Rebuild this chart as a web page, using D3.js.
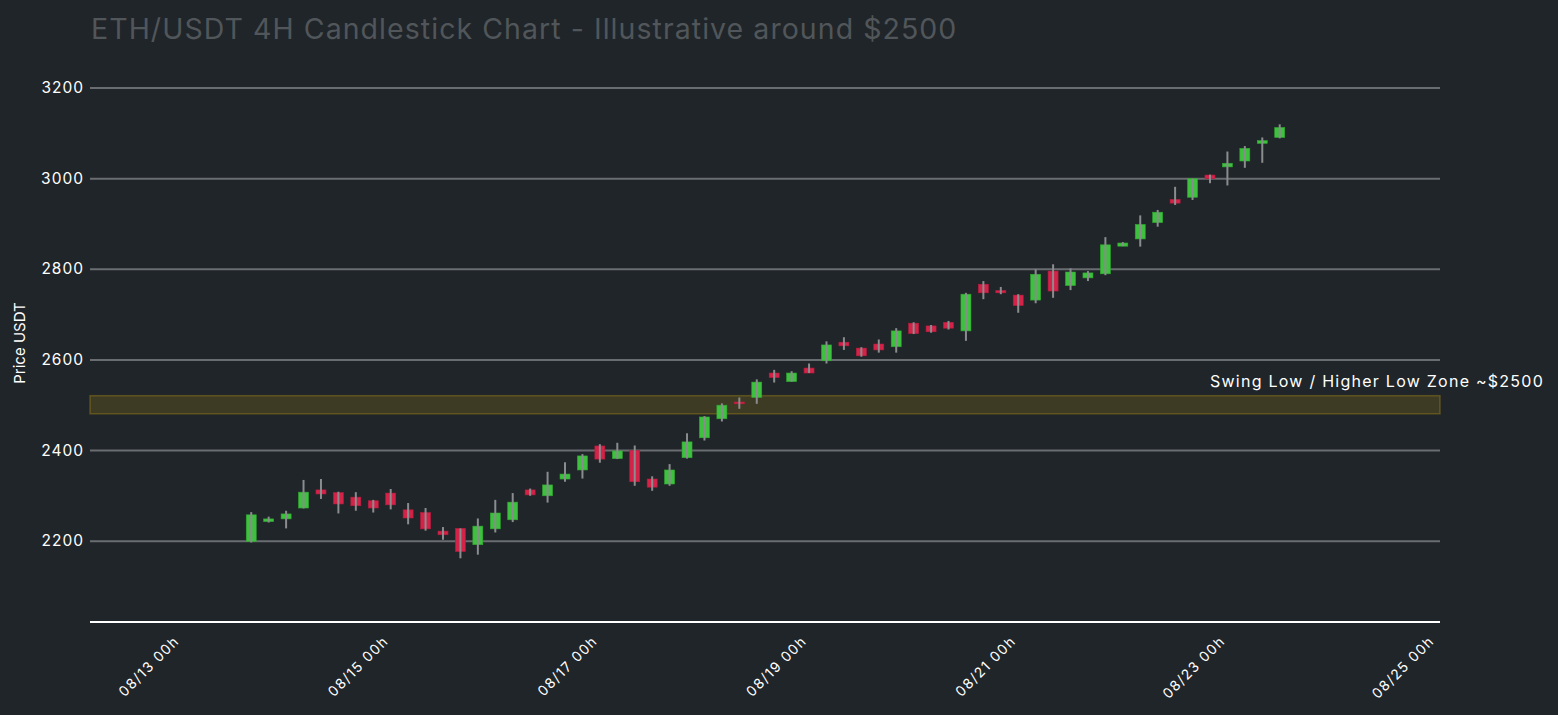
<!DOCTYPE html>
<html>
<head>
<meta charset="utf-8">
<script src="https://cdn.jsdelivr.net/npm/d3@7"></script>
<style>
  html, body { margin: 0; padding: 0; background: #202529; }
  svg { display: block; }
  text { font-family: Inter, "Noto Sans", sans-serif; }
</style>
</head>
<body>
<svg id="chart" width="1558" height="715"></svg>
<script>
// ---- Data (4H candles, first candle 08/13 16:00) ----
const firstCandle = "2024-08-13T16:00:00Z";
const stepHours = 4;
const opens  = [2198,2242,2248,2272,2312,2306,2296,2288,2305,2268,2262,2221,2227,2191,2226,2246,2312,2299,2336,2356,
                2409,2381,2399,2336,2325,2383,2427,2469,2506,2516,2570,2551,2581,2597,2638,2625,2634,2628,2680,2674,
                2682,2663,2766,2752,2742,2731,2795,2763,2780,2789,2850,2866,2902,2953,2958,3007,3025,3038,3077,3090];
const highs  = [2263,2253,2266,2334,2336,2308,2307,2290,2314,2283,2272,2230,2227,2249,2290,2305,2315,2352,2373,2391,
                2413,2416,2410,2342,2369,2437,2475,2503,2516,2556,2577,2574,2591,2640,2649,2627,2644,2669,2682,2676,
                2685,2747,2773,2760,2744,2799,2810,2801,2795,2870,2859,2918,2930,2981,2999,3008,3059,3071,3090,3119];
const lows   = [2196,2240,2227,2271,2292,2260,2266,2262,2269,2236,2222,2202,2161,2169,2218,2241,2299,2284,2330,2337,
                2372,2380,2321,2310,2321,2381,2421,2463,2491,2502,2549,2551,2570,2591,2621,2606,2615,2615,2656,2659,
                2666,2641,2733,2744,2703,2724,2736,2753,2773,2786,2850,2849,2893,2941,2952,2989,2984,3023,3034,3088];
const closes = [2257,2248,2259,2307,2303,2281,2277,2272,2279,2250,2226,2213,2176,2232,2261,2285,2301,2323,2347,2387,
                2380,2398,2330,2318,2356,2418,2473,2499,2502,2550,2560,2570,2570,2632,2630,2608,2621,2663,2657,2661,
                2669,2744,2747,2747,2719,2788,2751,2793,2791,2853,2857,2898,2925,2945,2999,2999,3033,3066,3083,3112];
const yTicks = [2200, 2400, 2600, 2800, 3000, 3200];
const xTickDates = ["2024-08-13","2024-08-15","2024-08-17","2024-08-19","2024-08-21","2024-08-23","2024-08-25"];
const zoneLow = 2480, zoneHigh = 2520;
const zoneLabel = "Swing Low / Higher Low Zone ~$2500";
const titleText = "ETH/USDT 4H Candlestick Chart - Illustrative around $2500";
const yTitle = "Price USDT";

const t0 = new Date(firstCandle);
const candles = opens.map((o, i) => ({
  t: d3.utcHour.offset(t0, i * stepHours),
  o, h: highs[i], l: lows[i], c: closes[i]
}));

// ---- Layout ----
const svg = d3.select("#chart");
const mLeft = 90, mRight = 1440, mTop = 70, mBottom = 622;
const FONT = "Inter, 'Noto Sans', sans-serif";

const x = d3.scaleUtc()
  .domain([new Date("2024-08-12T03:00:00Z"), new Date("2024-08-25T00:47:00Z")])
  .range([mLeft, mRight]);
const y = d3.scaleLinear().domain([2020.4, 3238.9]).range([mBottom, mTop]);

// Title
svg.append("text")
  .attr("x", 91).attr("y", 39)
  .attr("fill", "#51565a")
  .attr("font-size", 28.5)
  .attr("letter-spacing", 1.05)
  .text(titleText);

// Grid lines
const yAxis = d3.axisLeft(y).tickValues(yTicks).tickSize(-(mRight - mLeft)).tickPadding(8).tickFormat(d3.format("d"));
const gy = svg.append("g").attr("transform", `translate(${mLeft},0)`).call(yAxis);
gy.select(".domain").remove();
gy.selectAll(".tick line").attr("stroke", "#6a6d70").attr("stroke-width", 2);
gy.selectAll(".tick text").attr("fill", "#ffffff").attr("font-size", 15.5).attr("x", -6)
  .attr("letter-spacing", 1)
  .style("font-family", FONT);

// Y title
svg.append("text")
  .attr("transform", `translate(25,343) rotate(-90)`)
  .attr("text-anchor", "middle")
  .attr("fill", "#ffffff")
  .attr("font-size", 15)
  .text(yTitle);

// Zone band
svg.append("rect")
  .attr("x", mLeft).attr("width", mRight - mLeft)
  .attr("y", y(zoneHigh)).attr("height", y(zoneLow) - y(zoneHigh))
  .attr("fill", "rgba(184,150,20,0.20)")
  .attr("stroke", "rgba(184,150,20,0.35)")
  .attr("stroke-width", 1.5);

svg.append("text")
  .attr("x", 1210).attr("y", 387)
  .attr("fill", "#ffffff")
  .attr("font-size", 16)
  .attr("letter-spacing", 1.25)
  .text(zoneLabel);

// Candles
const bodyW = 10;
const gC = svg.append("g");
const green = "#3ec13e", red = "#d32349";
gC.selectAll("rect.body").data(candles).join("rect")
  .attr("class", "body")
  .attr("x", d => x(d.t) - bodyW / 2)
  .attr("width", bodyW)
  .attr("y", d => y(Math.max(d.o, d.c)))
  .attr("height", d => Math.max(1.5, Math.abs(y(d.o) - y(d.c))))
  .attr("fill", d => d.c >= d.o ? green : red)
  .attr("stroke", d => d.c >= d.o ? "#2fa82f" : "#b81c3e")
  .attr("stroke-width", 0.6);
gC.selectAll("line.wick").data(candles).join("line")
  .attr("class", "wick")
  .attr("x1", d => x(d.t)).attr("x2", d => x(d.t))
  .attr("y1", d => y(d.h)).attr("y2", d => y(d.l))
  .attr("stroke", "#8a8c8e")
  .attr("stroke-width", 2);

// X axis
svg.append("line")
  .attr("x1", mLeft).attr("x2", mRight)
  .attr("y1", mBottom).attr("y2", mBottom)
  .attr("stroke", "#ffffff").attr("stroke-width", 2);

const fmt = d3.utcFormat("%m/%d %Hh");
const xTicks = xTickDates.map(s => new Date(s + "T00:00:00Z"));
const xAxis = d3.axisBottom(x).tickValues(xTicks).tickSize(0).tickFormat(fmt);
const gx = svg.append("g").attr("transform", `translate(0,${mBottom})`).call(xAxis);
gx.select(".domain").remove();
gx.selectAll(".tick text")
  .attr("fill", "#ffffff")
  .attr("font-size", 14)
  .attr("letter-spacing", 1.3)
  .style("font-family", FONT)
  .attr("text-anchor", "end")
  .attr("dy", null)
  .attr("y", 0)
  .attr("transform", "translate(-2,20) rotate(-45)");
</script>
</body>
</html>
